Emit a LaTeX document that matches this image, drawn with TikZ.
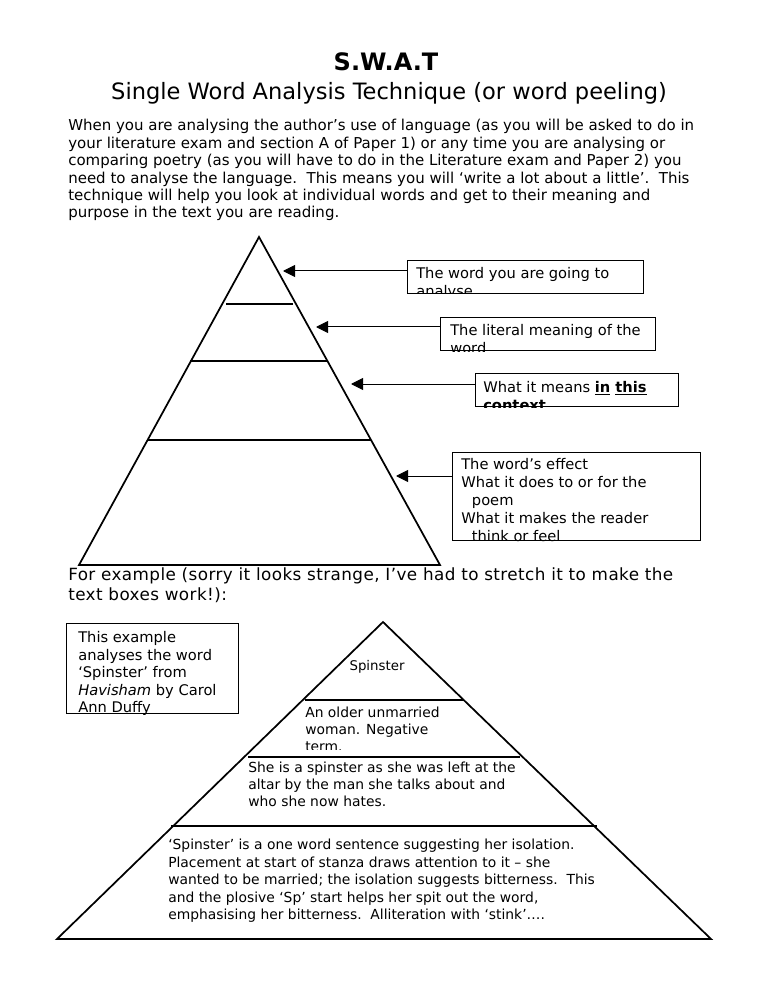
\documentclass[tikz,border=0pt]{standalone}
\usepackage{fontspec}
\setmainfont{DejaVu Sans}
\newfontfamily\spacedfont[LetterSpace=2.5]{DejaVu Sans}
\usetikzlibrary{arrows.meta,positioning}

\begin{document}
\begin{tikzpicture}[
    x=0.75pt, y=-0.75pt,
    note/.style={draw, line width=0.75pt, inner sep=0pt, anchor=north west},
    body/.style={anchor=north west, inner sep=0pt, align=left, font=\fontsize{11}{13.2}\selectfont},
    boxtext/.style={anchor=north west, inner sep=0pt, align=left, font=\fontsize{11}{13.5}\selectfont},
    small/.style={anchor=north west, inner sep=0pt, align=left, font=\fontsize{10.4}{12.6}\selectfont},
    level/.style={line width=1.3pt},
    arrow/.style={-{Triangle[length=9pt,width=9pt]}, line width=0.75pt}
]
\useasboundingbox (0,0) rectangle (768,994);

% heading
\node[anchor=base, font=\fontsize{18}{22}\selectfont\bfseries] (title) at (386,71) {S.W.A.T};
\node[anchor=base, font=\fontsize{16.9}{20}\selectfont] (subtitle) at (389,100) {Single Word Analysis Technique (or word peeling)};
\node[body, font=\fontsize{11.25}{13.1}\selectfont] (intro) at (68,119) {When you are analysing the author’s use of language (as you will be asked to do in\\
your literature exam and section A of Paper 1) or any time you are analysing or\\
comparing poetry (as you will have to do in the Literature exam and Paper 2) you\\
need to analyse the language.\ \ This means you will ‘write a lot about a little’.\ \ This\\
technique will help you look at individual words and get to their meaning and\\
purpose in the text you are reading.};

% first pyramid
\coordinate (apex) at (259,237);
\coordinate (baseL) at (79,565);
\coordinate (baseR) at (440,565);
\draw[level] (apex) -- (baseL) -- (baseR) -- cycle;
\draw[level] (226,304) -- (293,304);
\draw[level] (190,361) -- (327,361);
\draw[level] (148,440) -- (371,440);

\coordinate (tipword) at (283,271);
\coordinate (tipliteral) at (316,327);
\coordinate (tipcontext) at (351,384);
\coordinate (tipeffect) at (396,476);

\node[note, minimum width=177pt, minimum height=24.75pt] (word) at (407,260) {};
\node[note, minimum width=161.25pt, minimum height=24.75pt] (literal) at (440,317) {};
\node[note, minimum width=152.25pt, minimum height=24.75pt] (context) at (475,373) {};
\node[note, minimum width=186pt, minimum height=66pt] (effect) at (452,452) {};

\begin{scope}
\clip (word.north west) rectangle (word.south east);
\node[boxtext] (wordtext) at ([shift={(9,7)}]word.north west) {The word you are going to\\analyse};
\end{scope}
\begin{scope}
\clip (literal.north west) rectangle (literal.south east);
\node[boxtext] (literaltext) at ([shift={(10,7)}]literal.north west) {The literal meaning of the\\word};
\end{scope}
\begin{scope}
\clip (context.north west) rectangle (context.south east);
\node[boxtext] (contexttext) at ([shift={(8,8)}]context.north west) {What it means \textbf{\underline{in} \underline{this}}\\\textbf{context}};
\end{scope}
\begin{scope}
\clip (effect.north west) rectangle (effect.south east);
\node[boxtext] (effecttext) at ([shift={(9,6)}]effect.north west) {The word’s effect\\
What it does to or for the\\
\hspace*{8pt}poem\\
What it makes the reader\\
\hspace*{8pt}think or feel};
\end{scope}

\draw[arrow] (tipword -| word.west) -- (tipword);
\draw[arrow] (tipliteral -| literal.west) -- (tipliteral);
\draw[arrow] (tipcontext -| context.west) -- (tipcontext);
\draw[arrow] (tipeffect -| effect.west) -- (tipeffect);

% example
\node[anchor=north west, inner sep=0pt, align=left, font=\spacedfont\fontsize{12.6}{15}\selectfont] (forexample) at (68,567) {For example (sorry it looks strange, I’ve had to stretch it to make the\\text boxes work!):};

\node[note, minimum width=129pt, minimum height=67.5pt] (havisham) at (66,623) {};
\begin{scope}
\clip (havisham.north west) rectangle (havisham.south east);
\node[body] (havishamtext) at ([shift={(12,8)}]havisham.north west) {This example\\
analyses the word\\
‘Spinster’ from\\
\textit{Havisham} by Carol\\
Ann Duffy};
\end{scope}

% second pyramid
\coordinate (apex2) at (383,622);
\coordinate (baseL2) at (57,939);
\coordinate (baseR2) at (711,939);
\draw[level] (apex2) -- (baseL2) -- (baseR2) -- cycle;
\draw[level] (305,700) -- (463,700);
\draw[level] (248,757) -- (520,757);
\draw[level] (171,826) -- (597,826);

\node[anchor=base, font=\fontsize{10}{12}\selectfont] (spinster) at (377,670) {Spinster};
\begin{scope}
\clip (300,703) rectangle (470,749);
\node[small, font=\fontsize{10.4}{12.8}\selectfont] (older) at (305,707) {An older unmarried\\woman. Negative\\term.};
\end{scope}
\node[small] (altar) at (248,762) {She is a spinster as she was left at the\\
altar by the man she talks about and\\
who she now hates.};
\node[small, font=\fontsize{10.4}{13.1}\selectfont] (isolation) at (168,839) {‘Spinster’ is a one word sentence suggesting her isolation.\\
Placement at start of stanza draws attention to it – she\\
wanted to be married; the isolation suggests bitterness.\ \ This\\
and the plosive ‘Sp’ start helps her spit out the word,\\
emphasising her bitterness.\ \ Alliteration with ‘stink’….};
\end{tikzpicture}
\end{document}
